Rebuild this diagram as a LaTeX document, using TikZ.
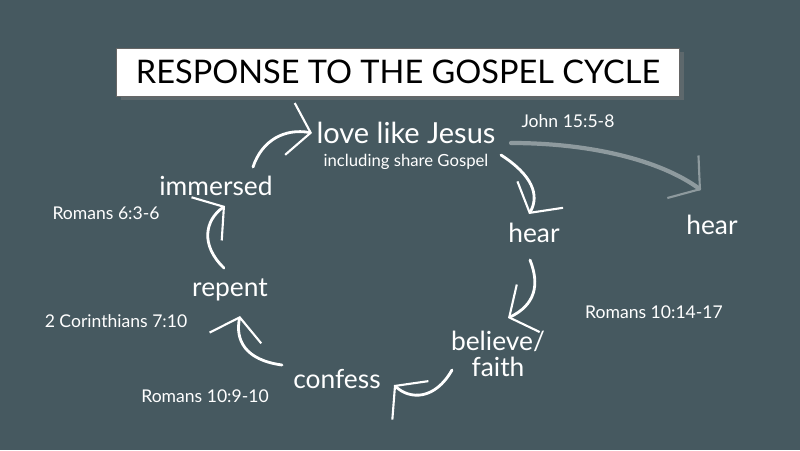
\documentclass[tikz,border=0pt]{standalone}
\usepackage{fontspec}
\setmainfont{Lato}
\usetikzlibrary{arrows.meta,shadows}
\definecolor{slate}{HTML}{465960}
\definecolor{chalkgray}{HTML}{8E9A9E}
\begin{document}
\begin{tikzpicture}[x=0.02cm,y=-0.02cm,
    word/.style={text=white, font=\fontsize{15}{15}\selectfont, inner sep=1pt},
    verse/.style={text=white, font=\fontsize{10}{11}\selectfont, inner sep=1pt},
    stroke/.style={white, line width=1.6pt, line cap=round, -{Straight Barb[length=12pt,width=30pt,line width=1.2pt]}},
]
\fill[slate] (0,0) rectangle (800,450);

\node[draw=black!60, fill=white, minimum width=11.26cm, minimum height=0.96cm,
      font=\fontsize{18.5}{19}\selectfont, drop shadow={opacity=0.4}] (title) at (398,72)
      {RESPONSE TO THE GOSPEL CYCLE};

\node[word, font=\fontsize{16.5}{17}\selectfont] (love) at (406,133) {love like Jesus};
\node[verse, font=\fontsize{9.5}{10}\selectfont] (share) at (406,162) {including share Gospel};
\node[verse] (john) at (568,121) {John 15:5-8};
\node[word] (hearR) at (712,225) {hear};
\node[word] (hear) at (534,233) {hear};
\node[verse] (rom1) at (654,312) {Romans 10:14-17};
\node[word, align=center] (believe) at (498,354) {believe/\\faith};
\node[word] (confess) at (337,379) {confess};
\node[verse] (rom2) at (205,396) {Romans 10:9-10};
\node[word] (repent) at (230,290) {repent};
\node[verse] (cor) at (116,321) {2 Corinthians 7:10};
\node[word] (immersed) at (216,186) {immersed};
\node[verse] (rom3) at (106,213) {Romans 6:3-6};

% stroke ends
\coordinate (s1) at (253,167); \coordinate (t1) at (312,133);
\coordinate (s2) at (501,155); \coordinate (t2) at (529,214);
\coordinate (s3) at (511,143); \coordinate (t3) at (701,190);
\coordinate (s4) at (530,260); \coordinate (t4) at (508,318);
\coordinate (s5) at (452,370); \coordinate (t5) at (394,385);
\coordinate (s6) at (282,365); \coordinate (t6) at (240,316);
\coordinate (s7) at (224,268); \coordinate (t7) at (225,206);

% chalk strokes
\draw[stroke] (s1) .. controls (262,140) and (285,128) .. (t1);
\draw[stroke] (s2) .. controls (532,175) and (540,195) .. (t2);
\draw[stroke, chalkgray, line width=2.4pt] (s3) .. controls (590,143) and (660,160) .. (t3);
\draw[stroke] (s4) .. controls (540,285) and (535,305) .. (t4);
\draw[stroke] (s5) .. controls (435,400) and (410,400) .. (t5);
\draw[stroke] (s6) .. controls (245,360) and (235,340) .. (t6);
\draw[stroke] (s7) .. controls (200,245) and (205,220) .. (t7);
\end{tikzpicture}
\end{document}
